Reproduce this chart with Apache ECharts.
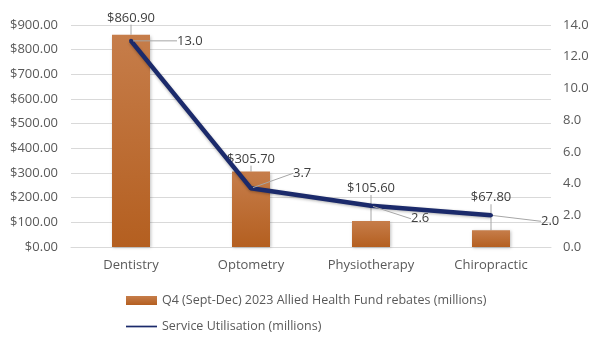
<!DOCTYPE html>
<html><head><meta charset="utf-8">
<script src="https://cdn.jsdelivr.net/npm/echarts@6/dist/echarts.min.js"></script>
<style>html,body{margin:0;padding:0;background:#fff}#c{width:600px;height:343px}</style>
</head><body><div id="c"></div>
<script>
var categories = ['Dentistry', 'Optometry', 'Physiotherapy', 'Chiropractic'];
var rebates = [860.9, 305.7, 105.6, 67.8];
var utilisation = [13.0, 3.7, 2.6, 2.0];
var leftTicks = {min: 0, max: 900, interval: 100};
var rightTicks = {min: 0, max: 14, interval: 2};
var barName = 'Q4 (Sept-Dec) 2023 Allied Health Fund rebates (millions)';
var lineName = 'Service Utilisation (millions)';

var barLabelShift = [-6, -2, -22, -22];
var lineLabelShift = [[44, 0], [40, -15], [38, 13], [48, 6]];

var font = 'Open Sans';
var txt = '#595959';
var chart = echarts.init(document.getElementById('c'));
chart.setOption({
  animation: false,
  textStyle: {fontFamily: font},
  grid: {left: 71, right: 49, top: 25, bottom: 96},
  legend: {
    orient: 'vertical', left: 121, top: 289, itemGap: 13,
    itemWidth: 31, itemHeight: 9,
    textStyle: {fontSize: 12.5, color: txt, fontFamily: font},
    data: [
      {name: barName, icon: 'rect'},
      {name: lineName, icon: 'path://M0,4 L40,4 L40,6.2 L0,6.2 Z'}
    ]
  },
  xAxis: {
    type: 'category', data: categories,
    axisLine: {lineStyle: {color: '#d9d9d9'}},
    axisTick: {show: false},
    axisLabel: {color: txt, fontSize: 13, margin: 12}
  },
  yAxis: [{
    type: 'value', min: leftTicks.min, max: leftTicks.max, interval: leftTicks.interval,
    axisLabel: {color: txt, fontSize: 13, margin: 13, formatter: function(v){return '$' + v.toFixed(2);}},
    splitLine: {lineStyle: {color: '#d9d9d9'}},
    axisLine: {show: false}, axisTick: {show: false}
  }, {
    type: 'value', min: rightTicks.min, max: rightTicks.max, interval: rightTicks.interval,
    axisLabel: {color: txt, fontSize: 13, margin: 12, formatter: function(v){return v.toFixed(1);}},
    splitLine: {show: false},
    axisLine: {show: false}, axisTick: {show: false}
  }],
  series: [{
    name: barName, type: 'bar', data: rebates, barWidth: 38, yAxisIndex: 0,
    itemStyle: {
      color: new echarts.graphic.LinearGradient(0, 0, 0, 1, [
        {offset: 0, color: '#c67d4a'}, {offset: 1, color: '#b45f20'}
      ]),
      shadowColor: 'rgba(0,0,0,0.25)', shadowBlur: 3, shadowOffsetX: 1, shadowOffsetY: 1
    },
    label: {show: true, position: 'top', distance: 4, color: '#404040', fontSize: 13,
      formatter: function(p){return '$' + p.value.toFixed(2);}},
    labelLayout: function(p){ return {dy: barLabelShift[p.dataIndex]}; },
    labelLine: {show: true, lineStyle: {color: '#a6a6a6', width: 1}}
  }, {
    name: lineName, type: 'line', data: utilisation, yAxisIndex: 1,
    symbol: 'circle', symbolSize: 4, showSymbol: true,
    lineStyle: {color: '#1b2a6b', width: 4.5, shadowColor: 'rgba(0,0,0,0.3)', shadowBlur: 3, shadowOffsetY: 1},
    itemStyle: {color: '#1b2a6b'},
    label: {show: true, position: 'right', distance: 0, color: '#404040', fontSize: 13,
      formatter: function(p){return p.value.toFixed(1);}},
    labelLayout: function(p){ var s = lineLabelShift[p.dataIndex]; return {dx: s[0], dy: s[1]}; },
    labelLine: {show: true, lineStyle: {color: '#a6a6a6', width: 1}},
    z: 3
  }]
});
</script></body></html>
